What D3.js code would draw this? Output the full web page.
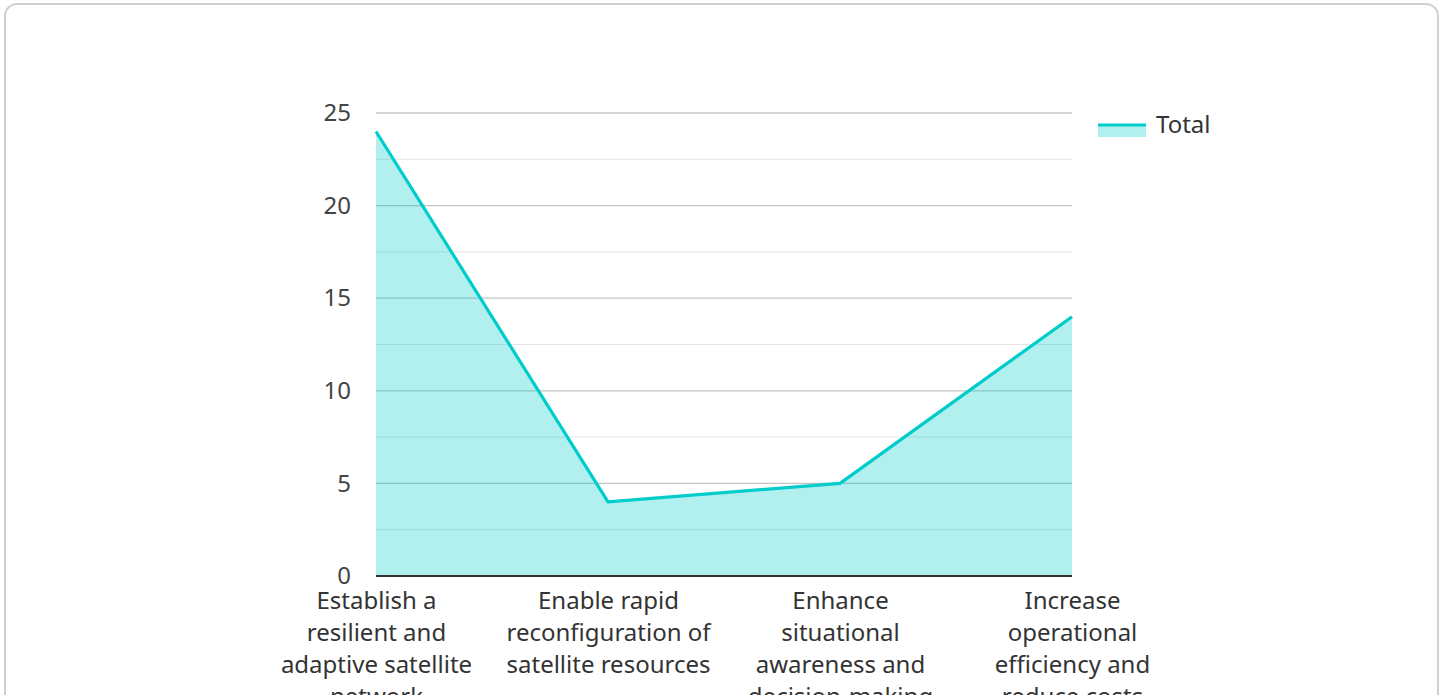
<!DOCTYPE html>
<html>
<head>
<meta charset="utf-8">
<script src="https://d3js.org/d3.v7.min.js"></script>
<style>
  body { margin: 0; background: #fff; }
  svg { display: block; font-family: "Noto Sans", sans-serif; }
</style>
</head>
<body>
<svg width="1445" height="695"></svg>
<script>
// data
const categories = [
  "Establish a resilient and adaptive satellite network",
  "Enable rapid reconfiguration of satellite resources",
  "Enhance situational awareness and decision-making",
  "Increase operational efficiency and reduce costs"
];
const totals = [24, 4, 5, 14];
const yTicks = [0, 5, 10, 15, 20, 25];
const seriesName = "Total";

const lineColor = "#00cccc";
const fillColor = "rgba(0, 204, 204, 0.3)";
const fontSize = 24;

const svg = d3.select("svg");

// card
svg.append("rect")
  .attr("x", 5).attr("y", 4)
  .attr("width", 1433).attr("height", 760)
  .attr("rx", 12)
  .attr("fill", "#fff")
  .attr("stroke", "#d0d0d0")
  .attr("stroke-width", 2);

const plotL = 376, plotR = 1072, plotT = 113, plotB = 576;

const x = d3.scalePoint().domain(categories).range([plotL, plotR]).padding(0);
const y = d3.scaleLinear().domain([0, 25]).range([plotB, plotT]);

// minor grid
const g = svg.append("g");
g.selectAll("line.minor")
  .data(d3.range(2.5, 25, 5))
  .enter().append("line")
  .attr("x1", plotL).attr("x2", plotR)
  .attr("y1", d => y(d)).attr("y2", d => y(d))
  .attr("stroke", "#e4e4e4").attr("stroke-width", 1);

// major grid
g.selectAll("line.major")
  .data(yTicks.filter(d => d > 0))
  .enter().append("line")
  .attr("x1", plotL).attr("x2", plotR)
  .attr("y1", d => y(d)).attr("y2", d => y(d))
  .attr("stroke", "#c4c4c4").attr("stroke-width", 1.3);

// area + line
const area = d3.area()
  .x((d, i) => x(categories[i]))
  .y0(y(0))
  .y1(d => y(d));
const line = d3.line()
  .x((d, i) => x(categories[i]))
  .y(d => y(d));

svg.append("path").datum(totals)
  .attr("d", area)
  .attr("fill", fillColor);

svg.append("path").datum(totals)
  .attr("d", line)
  .attr("fill", "none")
  .attr("stroke", lineColor)
  .attr("stroke-width", 3.2)
  .attr("stroke-linejoin", "round");

// y axis labels
svg.append("g")
  .attr("transform", `translate(${plotL},0)`)
  .call(d3.axisLeft(y).tickValues(yTicks).tickSize(0).tickPadding(25))
  .call(a => a.select(".domain").remove())
  .selectAll("text")
  .attr("font-size", fontSize)
  .attr("font-family", "Noto Sans, sans-serif")
  .attr("fill", "#444");

// x axis
const xAxis = svg.append("g")
  .attr("transform", `translate(0,${plotB})`)
  .call(d3.axisBottom(x).tickSize(0).tickPadding(0));
xAxis.select(".domain")
  .attr("stroke", "#333")
  .attr("stroke-width", 2)
  .attr("d", `M${plotL},0H${plotR}`);
xAxis.selectAll("text")
  .attr("font-size", fontSize)
  .attr("font-family", "Noto Sans, sans-serif")
  .attr("fill", "#333")
  .attr("y", 0)
  .attr("dy", 0)
  .call(wrap, 211);

function wrap(texts, width) {
  texts.each(function() {
    const text = d3.select(this);
    const words = text.text().split(/\s+/);
    text.text(null);
    let lineWords = [];
    let lineNo = 0;
    let tspan = text.append("tspan").attr("x", 0).attr("y", 33);
    for (const w of words) {
      lineWords.push(w);
      tspan.text(lineWords.join(" "));
      if (tspan.node().getComputedTextLength() > width && lineWords.length > 1) {
        lineWords.pop();
        tspan.text(lineWords.join(" "));
        lineWords = [w];
        lineNo++;
        tspan = text.append("tspan").attr("x", 0).attr("y", 33 + lineNo * 32).text(w);
      }
    }
  });
}

// legend
const lg = svg.append("g").attr("transform", "translate(1098,125)");
lg.append("rect").attr("x", 0).attr("y", 0).attr("width", 48).attr("height", 12).attr("fill", fillColor);
lg.append("line").attr("x1", 0).attr("x2", 48).attr("y1", 0).attr("y2", 0)
  .attr("stroke", lineColor).attr("stroke-width", 3);
lg.append("text").attr("x", 58).attr("y", 8)
  .attr("font-size", fontSize).attr("fill", "#333").text(seriesName);
</script>
</body>
</html>
